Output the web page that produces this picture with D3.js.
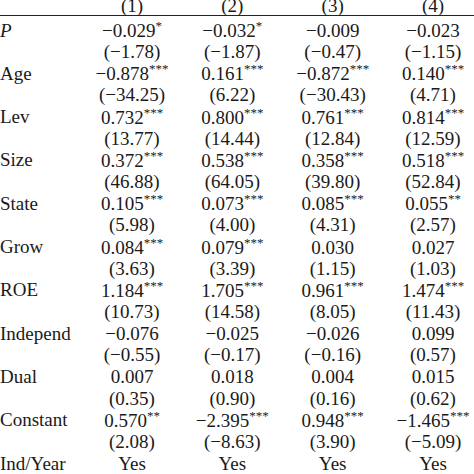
<!DOCTYPE html>
<html><head><meta charset="utf-8">
<script src="https://cdn.jsdelivr.net/npm/d3@7"></script>
<style>body{margin:0;background:#fff}</style>
</head><body>
<svg id="t" width="474" height="474"></svg>
<script>
// Table values
const columns = ["(1)", "(2)", "(3)", "(4)"];
const variables = ["P", "Age", "Lev", "Size", "State", "Grow", "ROE", "Independ", "Dual", "Constant"];
const coef = [
    ["−0.029", "−0.032", "−0.009", "−0.023"],
    ["−0.878", "0.161", "−0.872", "0.140"],
    ["0.732", "0.800", "0.761", "0.814"],
    ["0.372", "0.538", "0.358", "0.518"],
    ["0.105", "0.073", "0.085", "0.055"],
    ["0.084", "0.079", "0.030", "0.027"],
    ["1.184", "1.705", "0.961", "1.474"],
    ["−0.076", "−0.025", "−0.026", "0.099"],
    ["0.007", "0.018", "0.004", "0.015"],
    ["0.570", "−2.395", "0.948", "−1.465"]
];
const stars = [
    ["*", "*", "", ""],
    ["***", "***", "***", "***"],
    ["***", "***", "***", "***"],
    ["***", "***", "***", "***"],
    ["***", "***", "***", "**"],
    ["***", "***", "", ""],
    ["***", "***", "***", "***"],
    ["", "", "", ""],
    ["", "", "", ""],
    ["**", "***", "***", "***"]
];
const tstat = [
    ["−1.78", "−1.87", "−0.47", "−1.15"],
    ["−34.25", "6.22", "−30.43", "4.71"],
    ["13.77", "14.44", "12.84", "12.59"],
    ["46.88", "64.05", "39.80", "52.84"],
    ["5.98", "4.00", "4.31", "2.57"],
    ["3.63", "3.39", "1.15", "1.03"],
    ["10.73", "14.58", "8.05", "11.43"],
    ["−0.55", "−0.17", "−0.16", "0.57"],
    ["0.35", "0.90", "0.16", "0.62"],
    ["2.08", "−8.63", "3.90", "−5.09"]
];
const indYear = ["Yes", "Yes", "Yes", "Yes"];
const adjR2 = ["0.598", "0.705", "0.572", "0.671"];

const svg = d3.select("#t");
const font = "'Liberation Serif', 'DejaVu Serif', serif";

const x = d3.scalePoint().domain(columns).range([132, 433]);
const nRows = variables.length * 2 + 2;
const y = d3.scaleLinear().domain([0, nRows - 1]).range([30, 30 + 21.65 * (nRows - 1)]);

const g = svg.append("g")
    .attr("font-family", font)
    .attr("font-size", 19)
    .attr("fill", "#1a1a1a")
    .attr("dominant-baseline", "central");

// header
g.selectAll(".hd").data(columns).enter().append("text")
    .attr("x", d => x(d)).attr("y", 5)
    .attr("text-anchor", "middle").text(d => d);

svg.append("line").attr("x1", 0).attr("x2", 474).attr("y1", 15.5).attr("y2", 15.5)
    .attr("stroke", "#222").attr("stroke-width", 1);

function label(text, row, italic) {
    const t = g.append("text").attr("x", 0).attr("y", y(row));
    if (text === "Adj. R2") {
        t.text("Adj. ");
        t.append("tspan").attr("font-style", "italic").text("R");
        t.append("tspan").attr("font-size", 12).attr("dy", -7).text("2");
    } else {
        t.text(text).attr("font-style", italic ? "italic" : null);
    }
}

variables.forEach((v, i) => {
    label(v, i * 2, v === "P");
    columns.forEach((c, j) => {
        const t = g.append("text").attr("x", x(c)).attr("y", y(i * 2)).attr("text-anchor", "middle");
        t.append("tspan").text(coef[i][j]);
        if (stars[i][j]) t.append("tspan").attr("font-size", 13).attr("dy", -5).text(stars[i][j]);
        g.append("text").attr("x", x(c)).attr("y", y(i * 2 + 1)).attr("text-anchor", "middle")
            .text("(" + tstat[i][j] + ")");
    });
});

const r0 = variables.length * 2;
label("Ind/Year", r0);
label("Adj. R2", r0 + 1);
columns.forEach((c, j) => {
    g.append("text").attr("x", x(c)).attr("y", y(r0)).attr("text-anchor", "middle").text(indYear[j]);
    g.append("text").attr("x", x(c)).attr("y", y(r0 + 1)).attr("text-anchor", "middle").text(adjR2[j]);
});
</script>
</body></html>
